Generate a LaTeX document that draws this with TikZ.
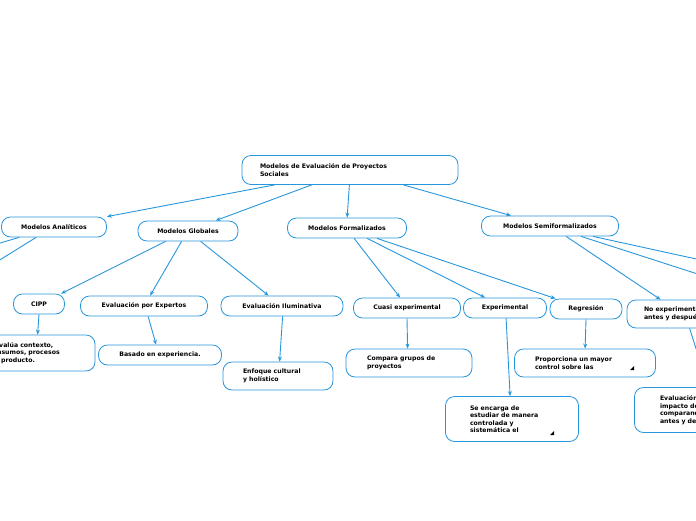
\documentclass[tikz,border=0pt]{standalone}
\usepackage{fontspec}
\setmainfont{DejaVu Sans}
\usetikzlibrary{arrows.meta}
\definecolor{bl}{RGB}{40,150,220}
\begin{document}
\begin{tikzpicture}[x=1pt,y=-1pt,
 box/.style={draw=bl,line width=0.8pt,rounded corners=9pt,fill=white,font=\bfseries\fontsize{6.2}{7.5}\selectfont,inner sep=0pt,align=center},
 lbox/.style={box,align=left},
 ar/.style={draw=bl,line width=0.9pt,-{Stealth[length=5pt,width=4pt]}},
 mk/.style={fill=black}]
\useasboundingbox (0,0) rectangle (696,520);
\clip (0,0) rectangle (696,520);
\node[lbox,minimum width=216,minimum height=29,text width=180] (root) at (350,170) {Modelos de Evaluación de Proyectos\\Sociales};
\node[box,minimum width=105,minimum height=20] (ana) at (54,227) {Modelos Analíticos};
\node[box,minimum width=100,minimum height=20] (glo) at (188,231) {Modelos Globales};
\node[box,minimum width=119,minimum height=20] (for) at (347,228) {Modelos Formalizados};
\node[box,minimum width=137,minimum height=20] (sem) at (550,226) {Modelos Semiformalizados};
\node[box,minimum width=51,minimum height=20] (cipp) at (39,304) {CIPP};
\node[box,minimum width=127,minimum height=20] (exp) at (144,306) {Evaluación por Expertos};
\node[box,minimum width=122,minimum height=20] (ilu) at (282,306) {Evaluación Iluminativa};
\node[lbox,minimum width=124,minimum height=36,text width=76] (eva) at (33,353) {Evalúa contexto,\\insumos, procesos\\y producto.};
\node[box,minimum width=123,minimum height=20] (bas) at (160,355) {Basado en experiencia.};
\node[lbox,minimum width=110,minimum height=28,text width=70] (enf) at (278,376) {Enfoque cultural\\y holístico};
\node[box,minimum width=107,minimum height=20] (cua) at (407,308) {Cuasi experimental};
\node[box,minimum width=83,minimum height=20] (ex) at (505,308) {Experimental};
\node[box,minimum width=72,minimum height=20] (reg) at (586,309) {Regresión};
\node[lbox,minimum width=134,minimum height=28,text width=100] (noe) at (694,314) {No experimental\\antes y después};
\node[lbox,minimum width=126,minimum height=28,text width=84] (com) at (409,363) {Compara grupos de\\proyectos};
\node[lbox,minimum width=141,minimum height=28,text width=100] (pro) at (585,363) {Proporciona un mayor\\control sobre las};
\node[lbox,minimum width=133,minimum height=45,text width=84] (se) at (512,419) {Se encarga de\\estudiar de manera\\controlada y\\sistemática el};
\node[lbox,minimum width=135,minimum height=45,text width=84] (evi) at (702,410) {Evaluación del\\impacto de\\comparando\\antes y después};
\coordinate (offa) at (-10,246);
\coordinate (offb) at (-10,266);
\coordinate (offc) at (710,262);
\coordinate (offd) at (710,278);
\draw[ar] (root.south west)++(33,0) -- (ana.north east);
\draw[ar] ([xshift=70]root.south west) -- ([xshift=78]glo.north west);
\draw[ar] ([xshift=-109]root.south east) -- ([xshift=60]for.north west);
\draw[ar] ([xshift=-55]root.south east) -- ([xshift=30]sem.north west);
\draw[bl,line width=0.9pt] ([xshift=18]ana.south west) -- (offa);
\draw[bl,line width=0.9pt] ([xshift=35]ana.south west) -- (offb);
\draw[ar] ([xshift=28]glo.south west) -- ([xshift=48]cipp.north west);
\draw[ar] ([xshift=44]glo.south west) -- ([xshift=70]exp.north west);
\draw[ar] ([xshift=63]glo.south west) -- ([xshift=48]ilu.north west);
\draw[ar] (cipp.south) -- ([xshift=67]eva.north west);
\draw[ar] ([xshift=68]exp.south west) -- ([xshift=58]bas.north west);
\draw[ar] ([xshift=62]ilu.south west) -- ([xshift=57]enf.north west);
\draw[ar] ([xshift=67]for.south west) -- ([xshift=47]cua.north west);
\draw[ar] ([xshift=80]for.south west) -- ([xshift=22]ex.north west);
\draw[ar] ([xshift=90]for.south west) -- ([xshift=6]reg.north west);
\draw[ar] (cua.south) -- ([xshift=62]com.north west);
\draw[ar] ([xshift=43]ex.south west) -- ([xshift=65]se.north west);
\draw[ar] (reg.south) -- ([xshift=71]pro.north west);
\draw[ar] ([xshift=85]sem.south west) -- ([xshift=34]noe.north west);
\draw[bl,line width=0.9pt] ([xshift=100]sem.south west) -- (offd);
\draw[bl,line width=0.9pt] ([xshift=112]sem.south west) -- (offc);
\draw[bl,line width=0.9pt] ([xshift=63]noe.south west) -- ([xshift=70,yshift=-22]noe.south west);
\fill (634,366) -- (634,370) -- (630,370) -- cycle;
\fill (554,431) -- (554,435) -- (550,435) -- cycle;
\end{tikzpicture}
\end{document}
